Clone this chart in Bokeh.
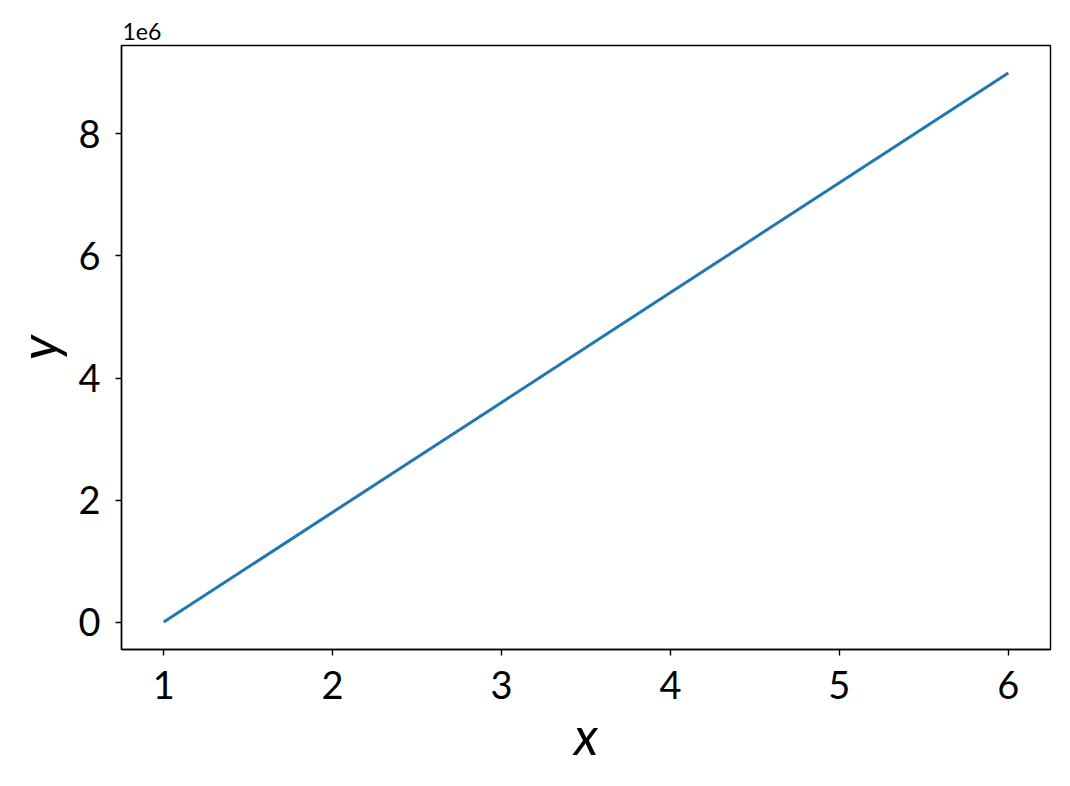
from bokeh.plotting import figure
from bokeh.models import Range1d, FixedTicker, CustomJSTickFormatter, Title
from bokeh.embed import file_html
from bokeh.resources import INLINE

x_vals = [1, 2, 3, 4, 5, 6]
y_vals = [0, 1.8e6, 3.6e6, 5.4e6, 7.2e6, 9.0e6]
x_ticks = [1, 2, 3, 4, 5, 6]
y_ticks = [0, 2e6, 4e6, 6e6, 8e6]
offset_text = "1e6"

FONT = "Lato"

p = figure(width=1054, height=770, output_backend="svg", toolbar_location=None,
           x_range=Range1d(0.75, 6.25), y_range=Range1d(-0.45e6, 9.45e6),
           min_border_left=121, min_border_right=4, min_border_top=45, min_border_bottom=121)
p.frame_width = 929
p.frame_height = 604

p.line(x_vals, y_vals, line_color="#1f77b4", line_width=3)

p.xgrid.visible = False
p.ygrid.visible = False
p.outline_line_color = "black"
p.outline_line_width = 1.4
p.background_fill_color = "white"
p.border_fill_color = "white"

p.xaxis.ticker = FixedTicker(ticks=x_ticks)
p.yaxis.ticker = FixedTicker(ticks=y_ticks)
p.yaxis.formatter = CustomJSTickFormatter(code="return (tick/1e6).toFixed(0);")

for ax in (p.xaxis, p.yaxis):
    ax.axis_line_color = "black"
    ax.axis_line_width = 1.4
    ax.major_tick_line_color = "black"
    ax.major_tick_line_width = 1.4
    ax.major_tick_out = 6
    ax.major_tick_in = 0
    ax.minor_tick_line_color = None
    ax.major_label_text_font = FONT
    ax.major_label_text_font_size = "38px"
    ax.major_label_text_color = "black"
    ax.axis_label_text_font = FONT
    ax.axis_label_text_font_size = "52px"
    ax.axis_label_text_font_style = "italic"
    ax.axis_label_text_color = "black"

p.xaxis.axis_label = "x"
p.yaxis.axis_label = "y"
p.xaxis.major_label_standoff = 15
p.yaxis.major_label_standoff = 15
p.xaxis.axis_label_standoff = 2
p.yaxis.axis_label_standoff = 6

p.add_layout(Title(text=offset_text, align="left", text_font=FONT, text_font_size="23px",
                   text_font_style="normal", text_color="black", standoff=11, offset=1), "above")

open("out.html", "w").write(file_html(p, INLINE))
